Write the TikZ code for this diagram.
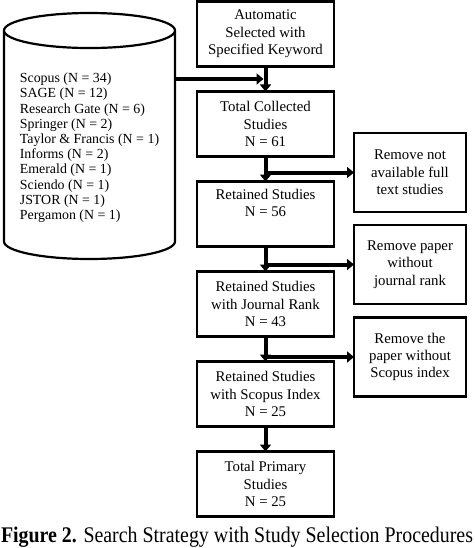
\documentclass[tikz,border=0pt]{standalone}
\usepackage{graphicx}
\usepackage{fontspec}
\setmainfont{Liberation Serif}
\usetikzlibrary{arrows.meta,positioning,shapes.geometric}

\begin{document}
\begin{tikzpicture}[x=1pt, y=-1pt,
      font=\fontsize{14.8}{17.3}\selectfont,
      stage/.style={draw, line width=2.2pt, align=center, minimum width=137pt,
                    minimum height=65pt, inner sep=1pt, outer sep=0pt},
      drop/.style={draw, line width=2.2pt, align=center, minimum width=112pt,
                   minimum height=79pt, inner sep=1pt, outer sep=0pt, anchor=west},
      flow/.style={line width=4pt, -{Triangle[length=7pt,width=11pt]}},
      store/.style={draw, line width=2.2pt, shape=cylinder, shape border rotate=90,
                    aspect=0.24, minimum width=171pt, minimum height=246pt, outer sep=0pt,
                    align=left, font=\fontsize{13.9}{15.2}\selectfont}]

    \useasboundingbox (0,0) rectangle (474,548);

    %% ---- source databases ----
    \node[store, anchor=shape center] (db) at (89.5,136)
      {Scopus (N = 34)\\ SAGE (N = 12)\\ Research Gate (N = 6)\\ Springer (N = 2)\\
       Taylor \& Francis (N = 1)\\ Informs (N = 2)\\ Emerald (N = 1)\\
       Sciendo (N = 1)\\ JSTOR (N = 1)\\ Pergamon (N = 1)};

    %% ---- main selection column, each stage 25pt under the last ----
    \node[stage] (auto) at (265.5,34)
      {Automatic\\ Selected with\\ Specified Keyword};
    \node[stage, below=25pt of auto] (total)
      {Total Collected\\ Studies\\ N = 61};
    \node[stage, below=25pt of total] (ret)
      {Retained Studies\\ N = 56\\ \strut};
    \node[stage, below=25pt of ret] (rank)
      {Retained Studies\\ with Journal Rank\\ N = 43};
    \node[stage, below=25pt of rank] (scop)
      {Retained Studies\\ with Scopus Index\\ N = 25};
    \node[stage, below=25pt of scop] (prim)
      {Total Primary\\ Studies\\ N = 25};

    %% ---- removals, hung off the gaps between stages ----
    \node[drop] (rmtext) at (354,172.5)
      {Remove not\\ available full\\ text studies};
    \node[drop] (rmrank) at (354,264.5)
      {Remove paper\\ without\\ journal rank};
    \node[drop] (rmscop) at (354,357)
      {Remove the\\ paper without\\ Scopus index};

    \coordinate (join) at ([yshift=-12.5pt]auto.south);

    \draw[flow] (auto) -- (total);
    \draw[flow] (db.east |- join) -- ([xshift=-2pt]join);
    \draw[flow] (total) -- (ret);
    \draw[flow] (ret) -- (rank);
    \draw[flow] (rank) -- (scop);
    \draw[flow] (scop) -- (prim);
    \draw[flow] (total.south |- rmtext.west) -- (rmtext.west);
    \draw[flow] (ret.south |- rmrank.west) -- (rmrank.west);
    \draw[flow] (rank.south |- rmscop.west) -- (rmscop.west);

    \node[anchor=base, inner sep=0pt] (cap) at (237,542)
      {\resizebox{472pt}{15.5pt}{\textbf{Figure 2.} Search Strategy with Study Selection Procedures}};
  \end{tikzpicture}
\end{document}
